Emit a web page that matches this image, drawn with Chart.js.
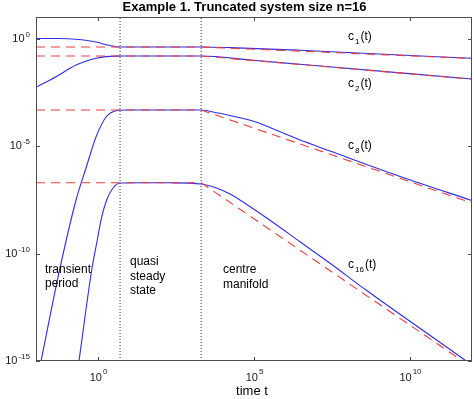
<!DOCTYPE html>
<html>
<head>
<meta charset="utf-8">
<script src="https://cdn.jsdelivr.net/npm/chart.js@4/dist/chart.umd.min.js"></script>
<style>
  body { margin: 0; background: #fff; }
  canvas { display: block; }
</style>
</head>
<body>
<canvas id="chart" width="474" height="399"></canvas>
<script>
// concentrations c_n(t) (solid = numerical solution)
const c1T = [0.01, 0.05, 0.19, 0.85, 1.77, 3.7, 7.2, 2000, 1.7e4, 3.0e6, 4.9e9, 1e12];
const c1V = [1.0, 0.995, 0.918, 0.687, 0.515, 0.416, 0.403, 0.403, 0.378, 0.283, 0.171, 0.12];

const c2T = [0.01, 0.044, 0.193, 0.845, 1.77, 3.71, 7.2, 2000, 7.45e4, 3.0e6, 1e12];
const c2V = [5.37e-3, 0.0167, 0.0585, 0.12, 0.144, 0.152, 0.153, 0.153, 0.1, 0.063, 0.0131];

const c8T = [0.0145, 0.059, 0.193, 0.404, 0.845, 1.77, 3.71, 7.2, 2000, 5600, 1.7e4, 1.08e5, 6.86e5, 4.35e6, 2.76e7, 4.89e9, 1e12];
const c8V = [1e-15, 2.12e-11, 3.08e-8, 9.5e-7, 2.62e-5, 2.23e-4, 4.4e-4, 4.72e-4, 4.72e-4, 3.61e-4, 2.62e-4, 1.35e-4, 4.62e-5, 1.58e-5, 5.85e-6, 3.81e-7, 2.9e-8];

const c16T = [0.24, 0.615, 0.889, 1.29, 1.86, 2.97, 4.98, 21.9, 201, 2000, 5600, 1.7e4, 1.08e5, 3.0e6, 2.76e7, 3.95e8, 6.46e11, 1e12];
const c16V = [1e-15, 1.71e-11, 3.08e-10, 4.99e-9, 3.08e-8, 1.11e-7, 1.9e-7, 1.96e-7, 1.94e-7, 1.71e-7, 1.17e-7, 5.85e-8, 1.05e-8, 3.54e-10, 3.5e-11, 2.0e-12, 1e-15, 6.3e-16];

// approximations (dashed): plateau then power-law decay
const apxT = [0.01, 2000, 1e12];
const a1V = [0.403, 0.403, 0.118];
const a2V = [0.153, 0.153, 0.0128];
const a8V = [4.72e-4, 4.72e-4, 2.23e-8];
const a16V = [1.96e-7, 1.96e-7, 5e-16];

// boundaries between the regimes
const phaseT = [5, 2000];

// axis ranges and tick exponents
const xMin = 1e-2, xMax = 1e12;
const yMin = 1e-15, yMax = 10;
const xTickExp = [0, 5, 10];
const yTickExp = [0, -5, -10, -15];

const blue = 'rgb(45,45,235)';
const red = 'rgb(238,60,60)';
const axisColor = '#4d4d4d';
const FONT = '"Liberation Sans", Arial, Helvetica, sans-serif';

function pts(T, V) { return T.map((t, i) => ({ x: t, y: V[i] })); }

const solid = (T, V) => ({
  data: pts(T, V), borderColor: blue, borderWidth: 1.1,
  pointRadius: 0, cubicInterpolationMode: 'monotone'
});
const dashed = (T, V) => ({
  data: pts(T, V), borderColor: red, borderWidth: 1.1,
  borderDash: [9, 6], pointRadius: 0
});
const marker = t => ({
  data: [{ x: t, y: yMin }, { x: t, y: yMax }], borderColor: '#333',
  borderWidth: 1, borderDash: [1, 2], pointRadius: 0
});

// draws the MATLAB-like box, ticks, labels and annotations
const frame = {
  id: 'frame',
  afterDraw(chart) {
    const { ctx, chartArea: a, scales: { x, y } } = chart;
    ctx.save();
    ctx.strokeStyle = axisColor;
    ctx.lineWidth = 1;
    ctx.strokeRect(a.left + 0.5, a.top + 0.5, a.right - a.left - 1, a.bottom - a.top - 1);

    ctx.fillStyle = '#1a1a1a';
    const big = '11px ' + FONT, small = '8px ' + FONT;

    // x ticks
    xTickExp.forEach(e => {
      const px = Math.round(x.getPixelForValue(Math.pow(10, e))) + 0.5;
      ctx.beginPath();
      ctx.moveTo(px, a.bottom); ctx.lineTo(px, a.bottom - 4);
      ctx.moveTo(px, a.top); ctx.lineTo(px, a.top + 4);
      ctx.stroke();
      ctx.font = big; const wb = ctx.measureText('10').width;
      ctx.font = small; const we = ctx.measureText(String(e)).width;
      const x0 = px - (wb + 1 + we) / 2;
      ctx.textAlign = 'left'; ctx.textBaseline = 'alphabetic';
      ctx.font = big; ctx.fillText('10', x0, 380.5);
      ctx.font = small; ctx.fillText(String(e), x0 + wb + 1, 374);
    });

    // y ticks
    yTickExp.forEach(e => {
      const py = Math.round(y.getPixelForValue(Math.pow(10, e))) + 0.5;
      ctx.beginPath();
      ctx.moveTo(a.left, py); ctx.lineTo(a.left + 4, py);
      ctx.moveTo(a.right, py); ctx.lineTo(a.right - 4, py);
      ctx.stroke();
      ctx.font = small; const we = ctx.measureText(String(e)).width;
      ctx.textAlign = 'right'; ctx.textBaseline = 'alphabetic';
      ctx.fillText(String(e), 30, py - 3);
      ctx.font = big; ctx.fillText('10', 30 - we - 1, py + 2);
    });

    ctx.fillStyle = '#000';
    // title and axis label
    ctx.textAlign = 'center';
    ctx.font = 'bold 13px ' + FONT;
    ctx.fillText('Example 1. Truncated system size n=16', 244.5, 10.5);
    ctx.font = '13px ' + FONT;
    ctx.fillText('time t', 252, 395);

    // regime notes
    ctx.textAlign = 'left';
    ctx.font = '12px ' + FONT;
    ctx.fillText('transient', 45, 272.5);
    ctx.fillText('period', 45, 287);
    ctx.fillText('quasi', 130, 265);
    ctx.fillText('steady', 130, 279.5);
    ctx.fillText('state', 130, 294);
    ctx.fillText('centre', 223, 273);
    ctx.fillText('manifold', 223, 287.5);

    // curve labels c_n(t)
    const lab = (sub, bx, by) => {
      ctx.font = '12px ' + FONT;
      ctx.fillText('c', bx, by);
      let cx = bx + ctx.measureText('c').width + 1;
      ctx.font = '8px ' + FONT;
      ctx.fillText(sub, cx, by + 4);
      cx += ctx.measureText(sub).width + 1;
      ctx.font = '12px ' + FONT;
      ctx.fillText('(t)', cx, by);
    };
    lab('1', 348, 40);
    lab('2', 348, 86.5);
    lab('8', 348, 148.5);
    lab('16', 348, 268);
    ctx.restore();
  }
};

new Chart(document.getElementById('chart'), {
  type: 'line',
  data: {
    datasets: [
      dashed(apxT, a1V), dashed(apxT, a2V), dashed(apxT, a8V), dashed(apxT, a16V),
      solid(c1T, c1V), solid(c2T, c2V), solid(c8T, c8V), solid(c16T, c16V),
      marker(phaseT[0]), marker(phaseT[1])
    ]
  },
  options: {
    responsive: false,
    animation: false,
    events: [],
    layout: { padding: { left: 36, top: 17, right: 2, bottom: 38 } },
    plugins: { legend: { display: false }, tooltip: { enabled: false }, title: { display: false } },
    scales: {
      x: { type: 'logarithmic', min: xMin, max: xMax, display: false },
      y: { type: 'logarithmic', min: yMin, max: yMax, display: false }
    }
  },
  plugins: [frame]
});
</script>
</body>
</html>
